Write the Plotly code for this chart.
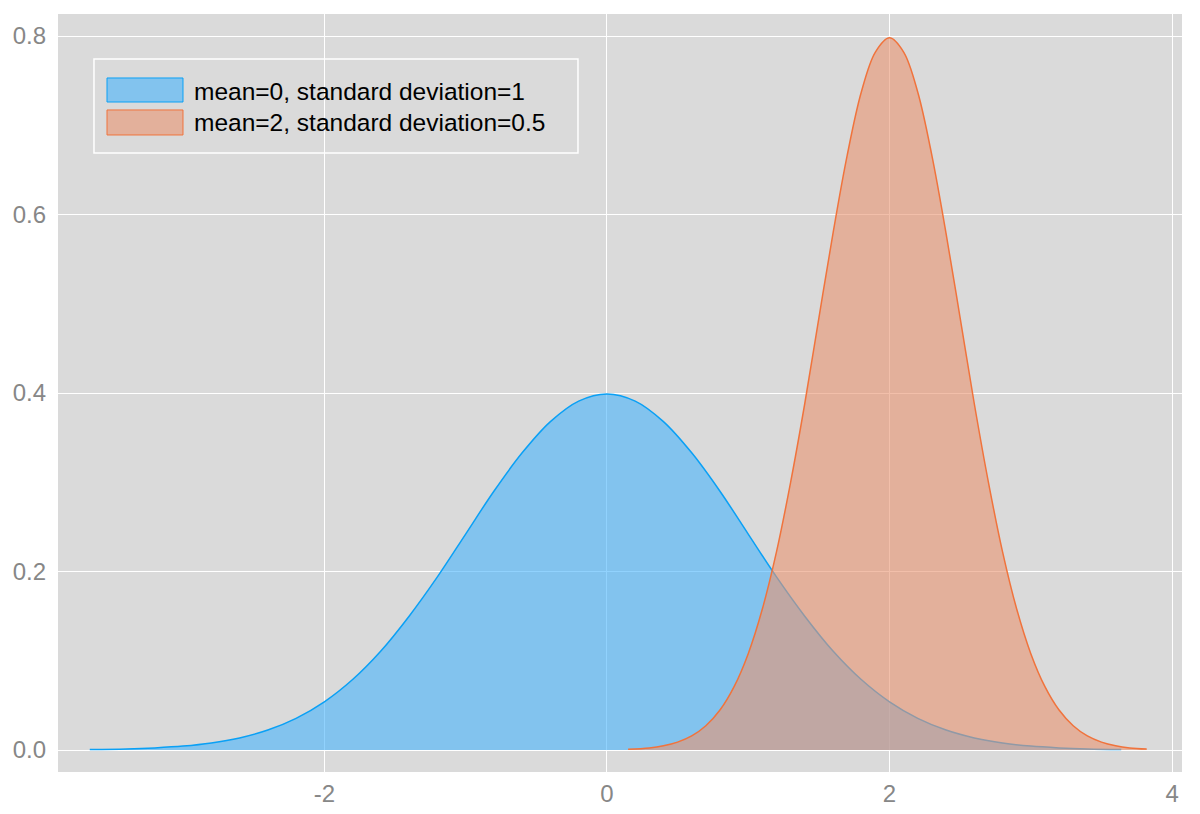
import plotly.graph_objects as go

# valores
blue_x = [-3.66, -3.4, -3.2, -3.0, -2.8, -2.6, -2.4, -2.2, -2.0, -1.8, -1.6, -1.4, -1.2, -1.0,
          -0.8, -0.6, -0.4, -0.2, 0.0, 0.2, 0.4, 0.6, 0.8, 1.0, 1.2, 1.4, 1.6, 1.8, 2.0,
          2.2, 2.4, 2.6, 2.8, 3.0, 3.2, 3.4, 3.64]
blue_y = [0.0005, 0.0012, 0.0024, 0.0044, 0.0079, 0.0136, 0.0224, 0.0355, 0.054, 0.079, 0.111, 0.150,
          0.194, 0.242, 0.290, 0.333, 0.368, 0.391, 0.399, 0.391, 0.368, 0.333, 0.290, 0.242,
          0.194, 0.150, 0.111, 0.079, 0.054, 0.0355, 0.0224, 0.0136, 0.0079, 0.0044, 0.0024,
          0.0012, 0.0005]

orange_x = [0.15, 0.3, 0.4, 0.5, 0.6, 0.7, 0.8, 0.9, 1.0, 1.1, 1.2, 1.3, 1.4, 1.5, 1.6, 1.7,
            1.8, 1.9, 2.0, 2.1, 2.2, 2.3, 2.4, 2.5, 2.6, 2.7, 2.8, 2.9, 3.0, 3.1, 3.2, 3.3,
            3.4, 3.5, 3.6, 3.7, 3.82]
orange_y = [0.0009, 0.0024, 0.0048, 0.0089, 0.0158, 0.0272, 0.0448, 0.071, 0.108, 0.158, 0.222,
            0.300, 0.388, 0.484, 0.579, 0.666, 0.737, 0.782, 0.798, 0.782, 0.737, 0.666, 0.579,
            0.484, 0.388, 0.300, 0.222, 0.158, 0.108, 0.071, 0.0448, 0.0272, 0.0158, 0.0089,
            0.0048, 0.0024, 0.0011]

x_tickvals = [-2, 0, 2, 4]
x_ticktext = ["-2", "0", "2", "4"]

names = ["mean=0, standard deviation=1", "mean=2, standard deviation=0.5"]
line_colors = ["#0aa0f5", "#f0733c"]
fill_colors = ["rgba(71,180,251,0.6)", "rgba(233,148,113,0.6)"]

fig = go.Figure()

for xs, ys, name, lc, fc in zip([blue_x, orange_x], [blue_y, orange_y], names, line_colors, fill_colors):
    fig.add_trace(
        go.Scatter(
            x=xs,
            y=ys,
            name=name,
            mode="lines",
            line=dict(color=lc, width=1.5, shape="spline", smoothing=1.0),
            fill="tozeroy",
            fillcolor=fc,
            showlegend=False,
        )
    )

# leyenda dibujada a mano (caja blanca con muestras grandes)
fig.add_shape(type="rect", xref="paper", yref="paper",
              x0=0.032, x1=0.4626, y0=0.8166, y1=0.9406,
              line=dict(color="white", width=1.5), fillcolor="rgba(0,0,0,0)")

swatch_y = [(0.8839, 0.9156), (0.8404, 0.8734)]
text_y = [0.8984, 0.8575]
for i in range(2):
    fig.add_shape(type="rect", xref="paper", yref="paper",
                  x0=0.0436, x1=0.1112, y0=swatch_y[i][0], y1=swatch_y[i][1],
                  line=dict(color=line_colors[i], width=1), fillcolor=fill_colors[i])
    fig.add_annotation(xref="paper", yref="paper", x=0.121, y=text_y[i],
                       text=names[i], showarrow=False, xanchor="left", yanchor="middle",
                       xshift=-2,
                       font=dict(size=24.5, color="black", family="Liberation Sans, Arial"))

fig.update_layout(
    width=1200,
    height=814,
    paper_bgcolor="white",
    plot_bgcolor="#dadada",
    margin=dict(l=50, r=26, t=6, b=50),
    font=dict(family="Liberation Sans, Arial", size=24, color="#878787"),
    showlegend=False,
)

fig.update_xaxes(
    range=[-3.885, 4.07],
    tickmode="array",
    tickvals=x_tickvals,
    ticktext=x_ticktext,
    showgrid=True,
    gridcolor="white",
    gridwidth=1,
    zeroline=False,
    ticks="inside",
    ticklen=6,
    tickcolor="white",
    ticklabelstandoff=5,
)
fig.update_yaxes(
    range=[-0.0246, 0.8247],
    dtick=0.2,
    tickformat=".1f",
    showgrid=True,
    gridcolor="white",
    gridwidth=1,
    zeroline=False,
    ticks="inside",
    ticklen=16,
    tickcolor="white",
    ticklabelstandoff=11,
)

fig.write_html("out.html")
